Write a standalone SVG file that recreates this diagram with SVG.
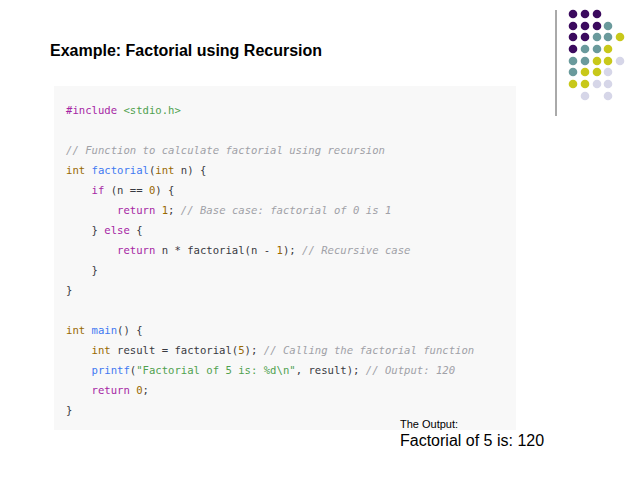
<svg xmlns="http://www.w3.org/2000/svg" width="638" height="478" viewBox="0 0 638 478">
<style>
.c{font-family:"DejaVu Sans Mono",monospace;font-size:10.6px;fill:#383a42;white-space:pre}
.k{fill:#a626a4}.t{fill:#986801}.f{fill:#4078f2}.s{fill:#50a14f}.m{fill:#a0a1a7;font-style:italic}
.P{fill:#3b0a5e}.T{fill:#6a9a9c}.Y{fill:#c8c81a}.L{fill:#d6d6e8}
</style>
<rect width="638" height="478" fill="#fff"/>
<g id="deco">
<line x1="556" y1="10" x2="556" y2="116" stroke="#555" stroke-width="1"/>
<g>
<circle class="P" cx="573" cy="14" r="4.3"/><circle class="P" cx="585" cy="14" r="4.3"/><circle class="P" cx="597" cy="14" r="4.3"/>
<circle class="P" cx="573" cy="26" r="4.3"/><circle class="P" cx="585" cy="26" r="4.3"/><circle class="P" cx="597" cy="26" r="4.3"/><circle class="T" cx="608" cy="26" r="4.3"/>
<circle class="P" cx="573" cy="37" r="4.3"/><circle class="P" cx="585" cy="37" r="4.3"/><circle class="T" cx="597" cy="37" r="4.3"/><circle class="T" cx="608" cy="37" r="4.3"/><circle class="Y" cx="620" cy="37" r="4.3"/>
<circle class="P" cx="573" cy="49" r="4.3"/><circle class="T" cx="585" cy="49" r="4.3"/><circle class="T" cx="597" cy="49" r="4.3"/><circle class="Y" cx="608" cy="49" r="4.3"/>
<circle class="T" cx="573" cy="61" r="4.3"/><circle class="T" cx="585" cy="61" r="4.3"/><circle class="Y" cx="597" cy="61" r="4.3"/><circle class="Y" cx="608" cy="61" r="4.3"/><circle class="L" cx="620" cy="61" r="4.3"/>
<circle class="T" cx="573" cy="72" r="4.3"/><circle class="Y" cx="585" cy="72" r="4.3"/><circle class="Y" cx="597" cy="72" r="4.3"/><circle class="L" cx="608" cy="72" r="4.3"/>
<circle class="Y" cx="573" cy="84" r="4.3"/><circle class="Y" cx="585" cy="84" r="4.3"/><circle class="L" cx="597" cy="84" r="4.3"/><circle class="L" cx="608" cy="84" r="4.3"/>
<circle class="L" cx="585" cy="96" r="4.3"/><circle class="L" cx="608" cy="96" r="4.3"/>
</g>
</g>
<text id="title" x="50" y="56" font-family="Liberation Sans,Arial,sans-serif" font-size="16" font-weight="bold" fill="#000">Example: Factorial using Recursion</text>
<g id="code">
<rect x="54" y="86" width="462" height="344" fill="#f8f8f8"/>
<text class="c" x="66" y="114"><tspan class="k">#include</tspan> <tspan class="s">&lt;stdio.h&gt;</tspan></text>
<text class="c" x="66" y="154"><tspan class="m">// Function to calculate factorial using recursion</tspan></text>
<text class="c" x="66" y="174"><tspan class="t">int</tspan> <tspan class="f">factorial</tspan>(<tspan class="t">int</tspan> n) {</text>
<text class="c" x="66" y="194">    <tspan class="k">if</tspan> (n == <tspan class="t">0</tspan>) {</text>
<text class="c" x="66" y="214">        <tspan class="k">return</tspan> <tspan class="t">1</tspan>; <tspan class="m">// Base case: factorial of 0 is 1</tspan></text>
<text class="c" x="66" y="234">    } <tspan class="k">else</tspan> {</text>
<text class="c" x="66" y="254">        <tspan class="k">return</tspan> n * factorial(n - <tspan class="t">1</tspan>); <tspan class="m">// Recursive case</tspan></text>
<text class="c" x="66" y="274">    }</text>
<text class="c" x="66" y="294">}</text>
<text class="c" x="66" y="334"><tspan class="t">int</tspan> <tspan class="f">main</tspan>() {</text>
<text class="c" x="66" y="354">    <tspan class="t">int</tspan> result = factorial(<tspan class="t">5</tspan>); <tspan class="m">// Calling the factorial function</tspan></text>
<text class="c" x="66" y="374">    <tspan class="f">printf</tspan>(<tspan class="s">"Factorial of 5 is: %d\n"</tspan>, result); <tspan class="m">// Output: 120</tspan></text>
<text class="c" x="66" y="394">    <tspan class="k">return</tspan> <tspan class="t">0</tspan>;</text>
<text class="c" x="66" y="414">}</text>
</g>
<g id="output" font-family="Liberation Sans,Arial,sans-serif" fill="#000">
<text x="400" y="428" font-size="11">The Output:</text>
<text x="400" y="446" font-size="16">Factorial of 5 is: 120</text>
</g>
</svg>
